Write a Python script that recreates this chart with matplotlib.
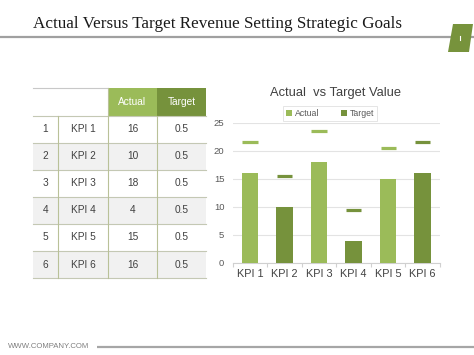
import matplotlib
matplotlib.use("Agg")
import matplotlib.pyplot as plt
from matplotlib.patches import Rectangle, Polygon, Patch
import numpy as np

plt.rcParams["font.family"] = ["Liberation Sans", "DejaVu Sans"]

# ---- data ----
kpis = ["KPI 1", "KPI 2", "KPI 3", "KPI 4", "KPI 5", "KPI 6"]
row_ids = ["1", "2", "3", "4", "5", "6"]
actual = [16, 10, 18, 4, 15, 16]
table_target = [0.5, 0.5, 0.5, 0.5, 0.5, 0.5]
target_marks = [21.5, 15.5, 23.5, 9.5, 20.5, 21.5]
yticks = [0, 5, 10, 15, 20, 25]
title = "Actual Versus Target Revenue Setting Strategic Goals"
chart_title = "Actual  vs Target Value"
footer = "WWW.COMPANY.COM"

LIGHT = "#9BBB59"
DARK = "#76923C"
bar_colors = [LIGHT, DARK, LIGHT, DARK, LIGHT, DARK]

W, H = 474, 355
fig = plt.figure(figsize=(W / 100, H / 100), dpi=100)
fig.patch.set_facecolor("white")

# overlay axes in pixel coordinates
ov = fig.add_axes([0, 0, 1, 1])
ov.set_xlim(0, W)
ov.set_ylim(H, 0)
ov.axis("off")

# title and rule
ov.text(33, 28, title, family="Liberation Serif", fontsize=12.3, color="#1a1a1a",
        ha="left", va="baseline")
ov.plot([0, W], [37, 37], color="#A0A0A0", lw=1.6, solid_capstyle="butt")
ov.add_patch(Polygon([[453, 24], [473, 24], [469, 52], [448, 52]], closed=True,
                     facecolor="#77933C", edgecolor="none", zorder=3))
ov.plot([460, 460], [36, 40], color="white", lw=0.8, zorder=4)

# footer
ov.text(8, 347, footer, fontsize=5.6, color="#7F7F7F", ha="left", va="center")
ov.plot([97, W], [347, 347], color="#A6A6A6", lw=1.6, solid_capstyle="butt")

# ---- table ----
cx = [33, 58, 108, 157, 206]
hy0, hy1 = 88, 115.5
rh = 27.1
ov.add_patch(Rectangle((cx[2], hy0), cx[3] - cx[2], hy1 - hy0, facecolor=LIGHT, edgecolor="none"))
ov.add_patch(Rectangle((cx[3], hy0), cx[4] - cx[3], hy1 - hy0, facecolor=DARK, edgecolor="none"))
ov.text((cx[2] + cx[3]) / 2, (hy0 + hy1) / 2, "Actual", color="white", fontsize=7.3,
        ha="center", va="center")
ov.text((cx[3] + cx[4]) / 2, (hy0 + hy1) / 2, "Target", color="white", fontsize=7.3,
        ha="center", va="center")
ov.plot([cx[0], cx[2]], [hy0, hy0], color="#C8C8C8", lw=0.8)
n = len(kpis)
for i in range(n):
    y0 = hy1 + i * rh
    if i % 2 == 1:
        ov.add_patch(Rectangle((cx[0], y0), cx[4] - cx[0], rh, facecolor="#F1F1F1",
                               edgecolor="none", zorder=0.5))
    yc = y0 + rh / 2
    vals = [row_ids[i], kpis[i], f"{actual[i]}", f"{table_target[i]}"]
    for j, v in enumerate(vals):
        ov.text((cx[j] + cx[j + 1]) / 2, yc, v, color="#404040", fontsize=7.3,
                ha="center", va="center")
for i in range(n + 1):
    y = hy1 + i * rh
    ov.plot([cx[0], cx[4]], [y, y], color="#C4C8B4", lw=0.8)
bottom = hy1 + n * rh
ov.plot([cx[1], cx[1]], [hy1, bottom], color="#B9C198", lw=0.8)
ov.plot([cx[2], cx[2]], [hy0, bottom], color="#B9C198", lw=0.8)
ov.plot([cx[3], cx[3]], [hy1, bottom], color="#B9C198", lw=0.8)

# ---- chart ----
ax = fig.add_axes([232.7 / W, 1 - 263 / H, (440 - 232.7) / W, (263 - 122.7) / H])
x = np.arange(n)
ax.bar(x, actual, width=0.48, color=bar_colors, zorder=3)
ax.hlines(target_marks, x - 0.22, x + 0.22, colors=bar_colors, lw=2.3, zorder=3)
ax.set_xlim(-0.5, n - 0.5)
ax.set_ylim(0, 25)
ax.set_yticks(yticks)
ax.set_xticks(x)
ax.set_xticklabels(kpis, fontsize=7.8, color="#404040")
ax.tick_params(axis="y", labelsize=6.8, labelcolor="#595959", length=0, pad=6)
ax.tick_params(axis="x", length=0, pad=4)
ax.set_xticks(np.arange(-0.5, n, 1.0), minor=True)
ax.tick_params(axis="x", which="minor", length=3, color="#D0D0D0", width=0.8)
ax.grid(axis="y", color="#E3E3E3", lw=0.8, zorder=0)
for s in ["left", "right", "top"]:
    ax.spines[s].set_visible(False)
ax.spines["bottom"].set_color("#D0D0D0")
ax.spines["bottom"].set_linewidth(0.8)
ax.set_facecolor("none")

fig.text(336 / W, 1 - 93 / H, chart_title, fontsize=9.3, color="#404040",
         ha="center", va="center")
handles = [Patch(facecolor=LIGHT, label="Actual"), Patch(facecolor=DARK, label="Target")]
leg = fig.legend(handles=handles, loc="center", bbox_to_anchor=(330 / W, 1 - 113.5 / H),
                 ncol=2, fontsize=6.3, frameon=True, fancybox=False, edgecolor="#D9D9D9",
                 handlelength=0.7, handleheight=0.7, handletextpad=0.3,
                 columnspacing=2.5, borderpad=0.3, labelcolor="#595959")
leg.get_frame().set_linewidth(0.6)

fig.savefig("out.png", dpi=100, facecolor="white")
